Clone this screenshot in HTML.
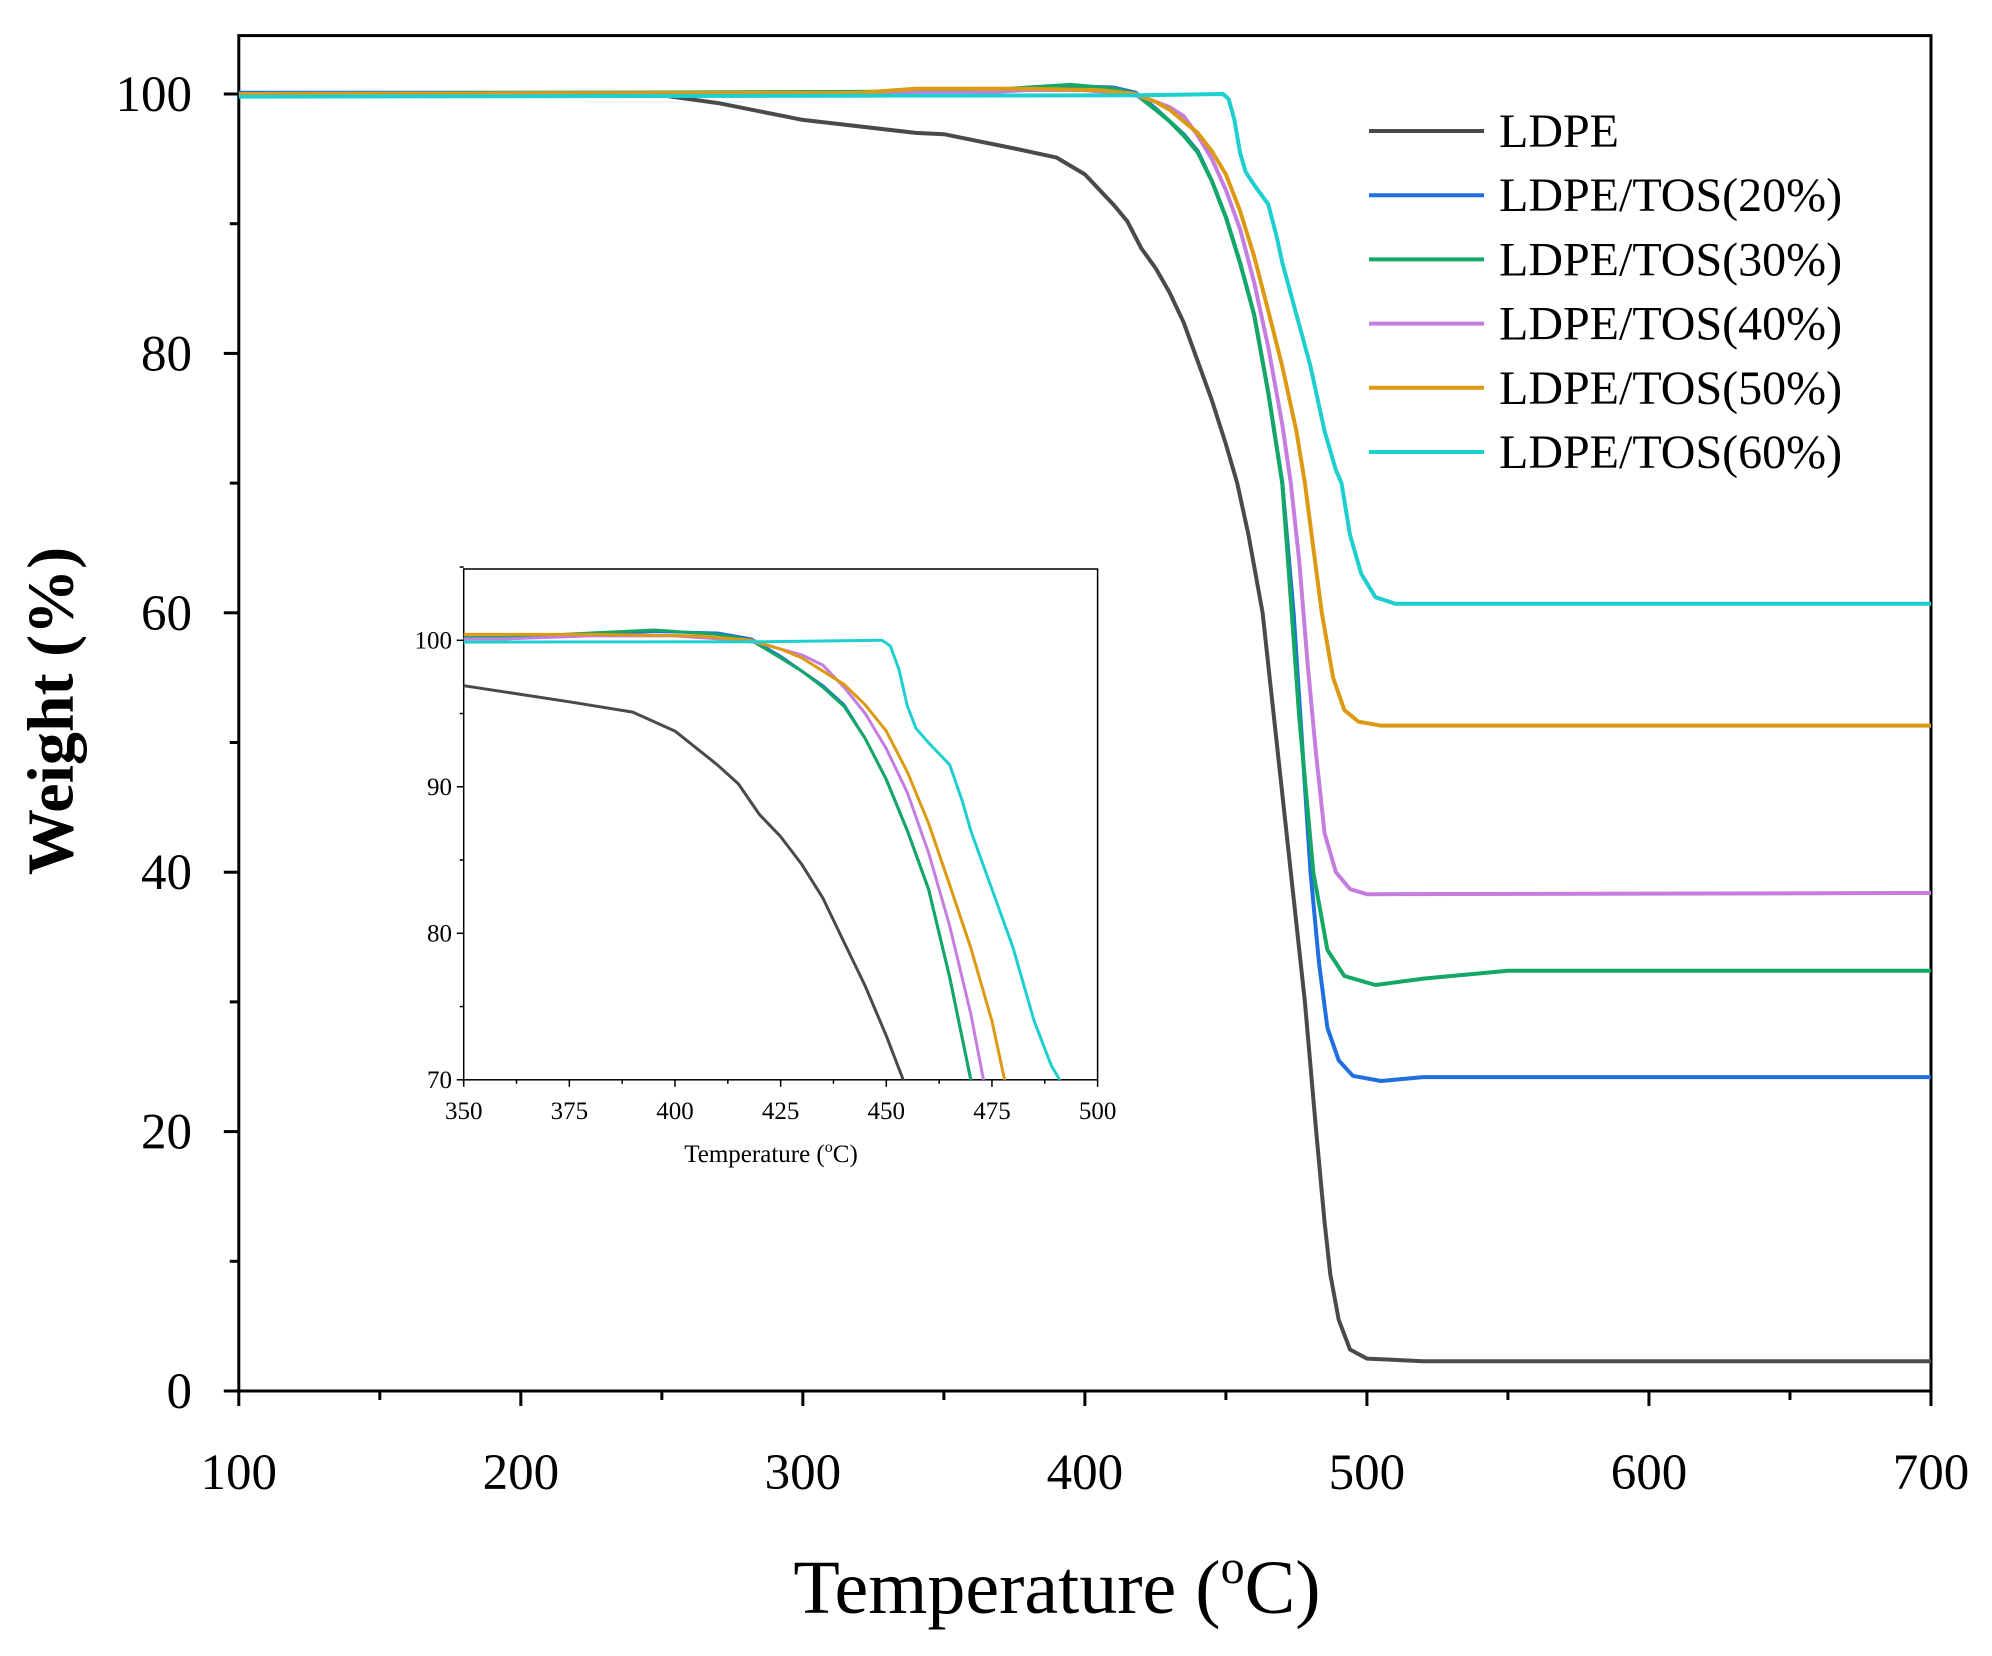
<!DOCTYPE html>
<html><head><meta charset="utf-8"><style>
html,body{margin:0;padding:0;background:#fff;width:1992px;height:1656px;overflow:hidden}
svg{display:block}
text{font-family:"Liberation Serif",serif;fill:#000}
</style></head><body>
<svg id="s" width="1992" height="1656" viewBox="0 0 1992 1656" xmlns="http://www.w3.org/2000/svg">
<defs><clipPath id="ic"><rect x="463.7" y="569" width="633.9" height="510.8"/></clipPath>
<clipPath id="mc"><rect x="238.8" y="36" width="1692.2" height="1355"/></clipPath></defs>
<rect x="238.8" y="35.6" width="1692.2" height="1355.4" fill="none" stroke="#000" stroke-width="3"/>
<g id="mticks"></g>
<g id="mcurves" clip-path="url(#mc)"></g>
<text x="51" y="711" font-size="66" font-weight="bold" text-anchor="middle" dominant-baseline="central" transform="rotate(-90 51 711)">Weight (%)</text>
<text x="1057" y="1613" font-size="76" text-anchor="middle">Temperature (<tspan font-size="48" dy="-30">o</tspan><tspan dy="30">C)</tspan></text>
<g id="legend"></g>
<rect x="463.7" y="569" width="633.9" height="510.8" fill="#fff" stroke="#000" stroke-width="1.5"/>
<g id="iticks"></g>
<g id="icurves" clip-path="url(#ic)"></g>
<text x="771" y="1162" font-size="25" text-anchor="middle">Temperature (<tspan font-size="16" dy="-10">o</tspan><tspan dy="10">C)</tspan></text>
</svg>
<script>
const NS="http://www.w3.org/2000/svg";
function el(p,t,a,txt){const e=document.createElementNS(NS,t);for(const k in a)e.setAttribute(k,a[k]);if(txt!=null)e.textContent=txt;document.getElementById(p).appendChild(e);return e;}
const MX=t=>238.8+(t-100)*2.8203, MY=w=>1391-w*12.97;
const IX=t=>463.7+(t-350)*4.226, IY=w=>1079.8-(w-70)*14.65;
for(let t=100;t<=700;t+=50){const maj=t%100==0;el('mticks','line',{x1:MX(t),x2:MX(t),y1:1391,y2:1391+(maj?15:9),stroke:'#000','stroke-width':3});
 if(maj)el('mticks','text',{x:MX(t),y:1489,'font-size':51,'text-anchor':'middle'},t);}
for(let w=0;w<=100;w+=10){const maj=w%20==0;el('mticks','line',{x1:238.8,x2:238.8-(maj?15:9),y1:MY(w),y2:MY(w),stroke:'#000','stroke-width':3});
 if(maj)el('mticks','text',{x:192,y:MY(w)+17,'font-size':51,'text-anchor':'end'},w);}
for(let t=350;t<=500;t+=12.5){const maj=(t%25)==0;el('iticks','line',{x1:IX(t),x2:IX(t),y1:1079.8,y2:1079.8+(maj?7:4),stroke:'#000','stroke-width':1.5});
 if(maj)el('iticks','text',{x:IX(t),y:1119,'font-size':25,'text-anchor':'middle'},t);}
for(let w=70;w<=105;w+=5){const maj=w%10==0;el('iticks','line',{x1:463.7,x2:463.7-(maj?7:4),y1:IY(w),y2:IY(w),stroke:'#000','stroke-width':1.5});
 if(maj)el('iticks','text',{x:452,y:IY(w)+8,'font-size':25,'text-anchor':'end'},w);}
const S=[
['LDPE','#4a4a4a',[[100,100],[250,99.9],[270,99.3],[300,98],[340,97],[350,96.9],[375,95.8],[390,95.1],[400,93.8],[410,91.5],[415,90.2],[420,88.1],[425,86.6],[430,84.7],[435,82.4],[440,79.4],[445,76.4],[450,73],[454,70],[458,66],[463,60],[468,50],[473,40],[478,30],[482,20],[485,13],[487,9],[490,5.5],[494,3.2],[500,2.5],[520,2.3],[700,2.3]]],
['LDPE/TOS(20%)','#1f6fe0',[[100,100.1],[360,100.1],[380,100.4],[395,100.6],[410,100.5],[418,100.1],[425,98.9],[430,97.9],[435,96.9],[440,95.6],[445,93.3],[450,90.5],[455,87],[460,83],[465,77],[470,70],[474,60],[477,50],[480,40],[483,33],[486,28],[490,25.5],[495,24.3],[505,23.9],[520,24.2],[700,24.2]]],
['LDPE/TOS(30%)','#13a866',[[100,100],[360,100.2],[380,100.5],[395,100.7],[410,100.4],[418,100],[425,98.8],[430,97.9],[435,96.8],[440,95.5],[445,93.3],[450,90.5],[455,87],[460,83],[465,77],[470,70],[472,64],[476,52],[481,40],[486,34],[492,32],[503,31.3],[520,31.8],[550,32.4],[700,32.4]]],
['LDPE/TOS(40%)','#c57de0',[[100,100],[360,100.1],[380,100.3],[400,100.3],[415,100],[420,99.8],[425,99.4],[430,99],[435,98.3],[440,96.8],[445,95],[450,92.6],[455,89.6],[460,85.5],[465,80.5],[470,74.5],[473,70],[476,64],[479,56],[482,49],[485,43],[489,40],[494,38.7],[500,38.3],[700,38.4]]],
['LDPE/TOS(50%)','#dc9a12',[[100,100],[320,100.1],[340,100.4],[380,100.4],[405,100.3],[418,100],[425,99.4],[430,98.8],[440,97],[445,95.6],[450,93.8],[455,91],[460,87.5],[465,83.3],[470,79],[475,74],[478,70],[481,65],[484,60],[488,55],[492,52.5],[497,51.6],[505,51.3],[700,51.3]]],
['LDPE/TOS(60%)','#1ecfcf',[[100,99.8],[420,99.9],[449,100],[451,99.6],[453,98],[455,95.5],[457,94],[460,93],[465,91.5],[468,89],[470,87],[475,83],[480,79],[485,74],[489,71],[491,70],[494,66],[498,63],[503,61.2],[510,60.7],[700,60.7]]]
];
function path(d,fx,fy){return d.map((p,i)=>(i?'L':'M')+fx(p[0]).toFixed(1)+' '+fy(p[1]).toFixed(1)).join(' ');}
S.forEach((s,i)=>{
 el('mcurves','path',{d:path(s[2],MX,MY),fill:'none',stroke:s[1],'stroke-width':4,'stroke-linejoin':'round'});
 el('icurves','path',{d:path(s[2],IX,IY),fill:'none',stroke:s[1],'stroke-width':3,'stroke-linejoin':'round'});
 const y=131+i*64.2;
 el('legend','line',{x1:1369,x2:1484,y1:y,y2:y,stroke:s[1],'stroke-width':4});
 el('legend','text',{x:1499,y:y+16,'font-size':48},s[0]);
});
</script>
</body></html>
